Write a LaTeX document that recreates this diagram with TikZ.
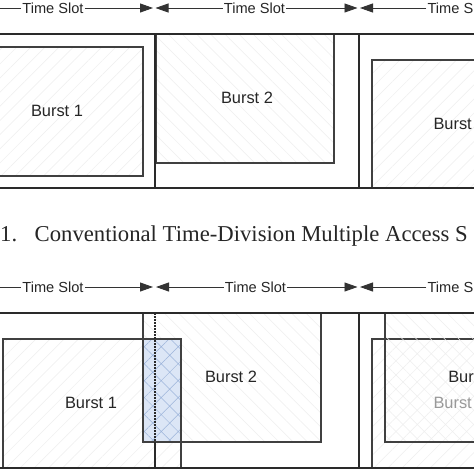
\documentclass[tikz,border=0pt]{standalone}
\usepackage{fontspec}
\setmainfont{Liberation Serif}
\newfontfamily\arialfont{Liberation Sans}
\usetikzlibrary{arrows.meta,patterns.meta}
\definecolor{framec}{HTML}{2A2A2A}
\definecolor{boxc}{HTML}{404040}
\definecolor{hatchc}{HTML}{EEEEEE}
\definecolor{ovfill}{HTML}{DCE6F6}
\definecolor{ovline}{HTML}{9DB4DA}
\tikzset{
  frameline/.style={draw=framec, line width=1.5pt},
  burstA/.style={draw=boxc, line width=1.1pt, pattern={Lines[angle=45,distance=10pt,line width=0.5pt]}, pattern color=hatchc},
  burstB/.style={draw=boxc, line width=1.1pt, pattern={Lines[angle=-45,distance=10pt,line width=0.5pt]}, pattern color=hatchc},
  overlap/.style={fill=ovfill},
  overlaphatch/.style={pattern={Hatch[angle=45,distance=12pt,line width=0.5pt]}, pattern color=ovline},
  slotlabel/.style={font=\arialfont\fontsize{14.6}{16}\selectfont, inner sep=1pt, text=black!85},
  burstlabel/.style={font=\arialfont\fontsize{16.4}{18}\selectfont, text=black!85},
  greylabel/.style={font=\arialfont\fontsize{16.4}{18}\selectfont, text=black!40},
  slotarrow/.style={draw=black!80, line width=0.9pt, -{Triangle[length=13pt,width=9pt]}},
}
\begin{document}
\begin{tikzpicture}[x=1pt,y=-1pt]
\useasboundingbox (0,0) rectangle (474,474);
\clip (0,0) rectangle (474,474);
\fill[white] (0,0) rectangle (474,474);

% ---------------- top panel ----------------
\node[slotlabel] (t1) at (53,8) {Time Slot};
\node[slotlabel] (t2) at (254.5,8) {Time Slot};
\node[slotlabel, anchor=east] (t3) at (474.5,8) {Time S};
\coordinate (t1l) at (-50,8);
\coordinate (t1r) at (153,8);
\coordinate (t2l) at (155.5,8);
\coordinate (t2r) at (357.5,8);
\coordinate (t3l) at (360,8);
\draw[slotarrow] (t1) -- (t1l);
\draw[slotarrow] (t1) -- (t1r);
\draw[slotarrow] (t2) -- (t2l);
\draw[slotarrow] (t2) -- (t2r);
\draw[slotarrow] (t3) -- (t3l);

% bursts
\path[burstA] (-29,47) rectangle (143,176);
\path[burstB] (156,34) rectangle (334,163);
\path[burstA] (372,60) rectangle (556,188);
\node[burstlabel] (b1) at (57,111) {Burst 1};
\node[burstlabel] (b2) at (247,98) {Burst 2};
\node[burstlabel, anchor=east, inner xsep=0pt] (b3) at (472,124) {Burst};

% frame
\draw[frameline] (-5,34) -- (480,34);
\draw[frameline] (-5,188) -- (480,188);
\draw[frameline] (155,34) -- (155,188);
\draw[frameline] (359,34) -- (359,188);

% caption
\node[anchor=base west, font=\fontsize{22.7}{26}\selectfont, inner sep=0pt, text=black!85] (cap) at (0,241)
  {1.\hspace{17.5pt}Conventional Time-Division Multiple Access S};

% ---------------- bottom panel ----------------
\node[slotlabel] (u1) at (53,287) {Time Slot};
\node[slotlabel] (u2) at (255.5,287) {Time Slot};
\node[slotlabel, anchor=east] (u3) at (474.5,287) {Time S};
\coordinate (u1l) at (-50,287);
\coordinate (u1r) at (153,287);
\coordinate (u2l) at (156,287);
\coordinate (u2r) at (357.5,287);
\coordinate (u3l) at (360,287);
\draw[slotarrow] (u1) -- (u1l);
\draw[slotarrow] (u1) -- (u1r);
\draw[slotarrow] (u2) -- (u2l);
\draw[slotarrow] (u2) -- (u2r);
\draw[slotarrow] (u3) -- (u3l);

% bursts
\path[burstA] (3,339) rectangle (181,468);
\path[burstB] (143,313) rectangle (321,442);
\path[overlap] (143,339) rectangle (181,442);
\path[overlaphatch] (143,339) rectangle (181,442);
\draw[boxc, line width=1.1pt] (143,339) rectangle (181,442);
\path[burstA] (372,339) rectangle (556,468);
\path[burstB] (385,313) rectangle (570,442);
\node[burstlabel] (c1) at (91,403) {Burst 1};
\node[burstlabel] (c2) at (231,377) {Burst 2};
\node[burstlabel, anchor=east, inner xsep=0pt] (c3) at (474,377) {Bur};
\node[greylabel, anchor=east, inner xsep=0pt] (c4) at (472,403) {Burst};

% frame
\draw[frameline] (-5,313) -- (480,313);
\draw[frameline] (-5,468) -- (480,468);
\draw[framec, line width=1.2pt, dash pattern=on 1.5pt off 1.5pt] (155,313) -- (155,442);
\draw[frameline] (155,442) -- (155,468);
\draw[frameline] (359,313) -- (359,468);
\end{tikzpicture}
\end{document}
